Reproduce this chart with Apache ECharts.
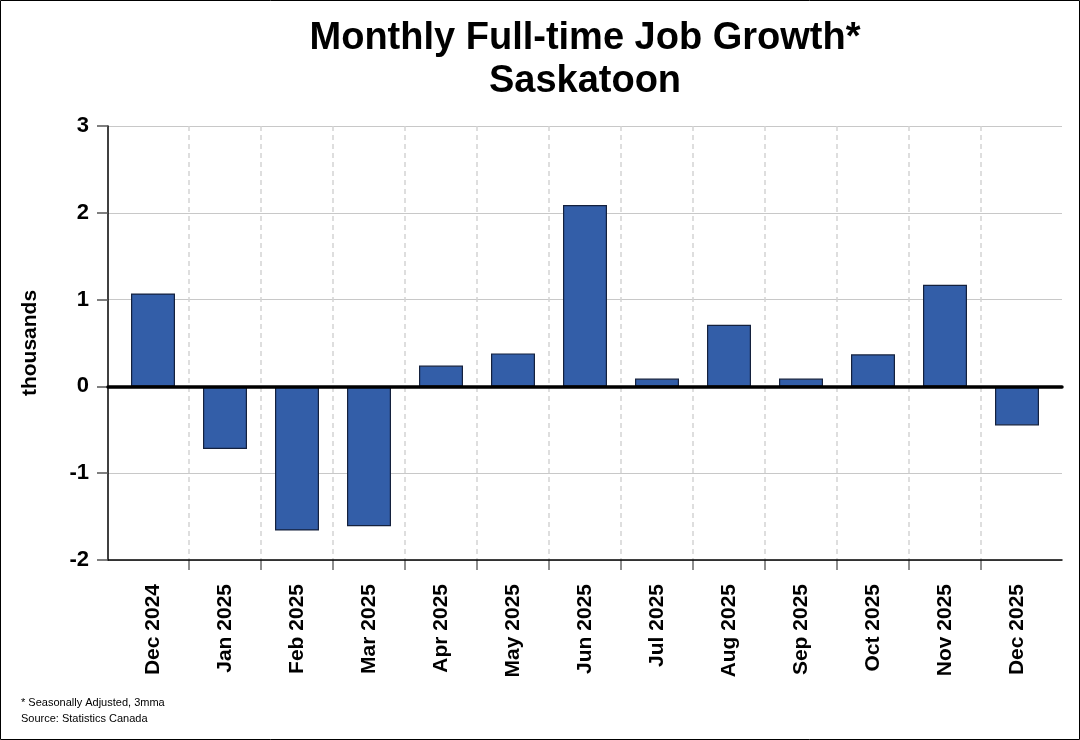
<!DOCTYPE html>
<html>
<head>
<meta charset="utf-8">
<script src="https://cdn.jsdelivr.net/npm/echarts@6/dist/echarts.min.js"></script>
<style>
html,body{margin:0;padding:0;background:#fff;}
#chart{width:1080px;height:740px;}
</style>
</head>
<body>
<div id="chart"></div>
<script>
const categories = ['Dec 2024','Jan 2025','Feb 2025','Mar 2025','Apr 2025','May 2025','Jun 2025','Jul 2025','Aug 2025','Sep 2025','Oct 2025','Nov 2025','Dec 2025'];
const values = [1.07, -0.72, -1.66, -1.61, 0.24, 0.38, 2.09, 0.09, 0.71, 0.09, 0.37, 1.17, -0.45];
const yMin = -2, yMax = 3, yStep = 1;
const titleText = 'Monthly Full-time Job Growth*\nSaskatoon';
const yName = 'thousands';
const notes = ['* Seasonally Adjusted, 3mma', 'Source: Statistics Canada'];

const FONT = 'Liberation Sans, Arial, sans-serif';
const chart = echarts.init(document.getElementById('chart'), null, {renderer:'canvas'});
const TOP = 126, BOTTOM = 180;
chart.setOption({
  backgroundColor:'#ffffff',
  animation:false,
  title:{
    text:titleText, left:585, top:17, textAlign:'center', padding:0,
    textStyle:{fontFamily:FONT, fontWeight:'bold', fontSize:38, lineHeight:43, color:'#000'}
  },
  graphic:[
    {type:'rect', shape:{x:0.5,y:0.5,width:1079,height:739}, style:{fill:'none', stroke:'#000', lineWidth:1}, z:100},
    {type:'text', left:21, top:697, style:{text:notes[0], font:'11px '+FONT, fill:'#000'}},
    {type:'text', left:21, top:713, style:{text:notes[1], font:'11px '+FONT, fill:'#000'}}
  ],
  grid:[
    {left:108, right:18, top:TOP, bottom:BOTTOM},
    {left:117, right:27, top:TOP, bottom:BOTTOM},
    {left:117, right:27, top:560, height:10}
  ],
  xAxis:[
    {gridIndex:0, type:'value', min:0, max:1, position:'bottom',
      axisLine:{show:true, onZero:false, lineStyle:{color:'#000', width:1.5}},
      axisTick:{show:false}, axisLabel:{show:false}, splitLine:{show:false}},
    {gridIndex:0, type:'value', min:0, max:1, position:'top', z:10,
      axisLine:{show:true, onZero:true, lineStyle:{color:'#000', width:3.5}},
      axisTick:{show:false}, axisLabel:{show:false}, splitLine:{show:false}},
    {gridIndex:1, type:'category', data:categories, boundaryGap:true,
      axisLine:{show:false}, axisTick:{show:false},
      axisLabel:{show:true, rotate:90, margin:24, interval:0, fontFamily:FONT, fontWeight:'bold', fontSize:21, color:'#000'},
      splitLine:{show:true, showMinLine:false, showMaxLine:false, lineStyle:{color:'#d3d3d3', width:1.5, type:[5,4]}}},
    {gridIndex:2, type:'category', data:categories, boundaryGap:true,
      axisLine:{show:false}, axisTick:{show:false}, axisLabel:{show:false},
      splitLine:{show:true, showMinLine:false, showMaxLine:false, lineStyle:{color:'#6a6a6a', width:1.5, type:'solid'}}}
  ],
  yAxis:[
    {gridIndex:0, type:'value', min:yMin, max:yMax, interval:yStep,
      name:yName, nameLocation:'middle', nameGap:67, nameRotate:90,
      nameTextStyle:{fontFamily:FONT, fontWeight:'bold', fontSize:21, color:'#000'},
      axisLine:{show:true, onZero:false, lineStyle:{color:'#000', width:1.5}},
      axisTick:{show:true, length:11, lineStyle:{color:'#555', width:1.5}},
      axisLabel:{show:true, margin:19, fontFamily:FONT, fontWeight:'bold', fontSize:22, color:'#000'},
      splitLine:{show:true, lineStyle:{color:'#c8c8c8', width:1}}},
    {gridIndex:1, type:'value', min:yMin, max:yMax, interval:yStep, show:false, splitLine:{show:false}},
    {gridIndex:2, type:'value', min:0, max:1, show:false, splitLine:{show:false}}
  ],
  series:[
    {type:'bar', xAxisIndex:2, yAxisIndex:1, data:values, barWidth:44,
      itemStyle:{color:'#335EA8', borderColor:'#14213d', borderWidth:1.2}}
  ]
});
</script>
</body>
</html>
